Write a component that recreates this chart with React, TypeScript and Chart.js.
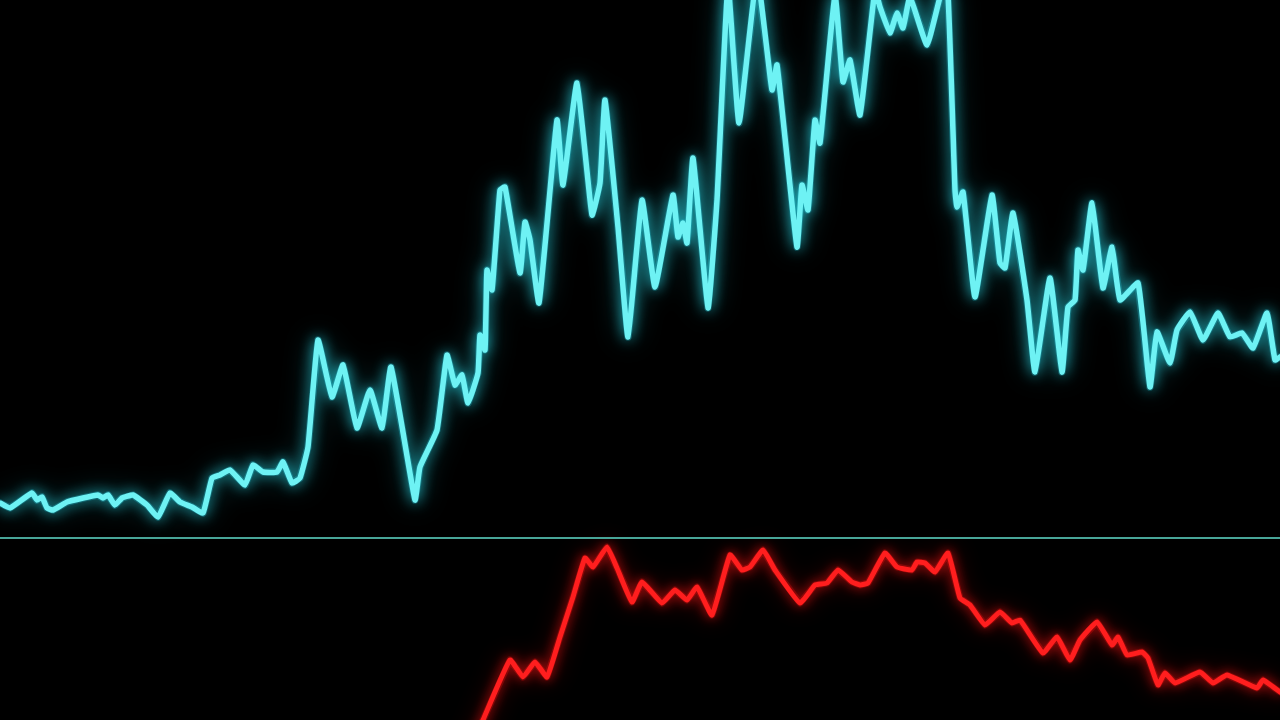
import React, { useEffect, useRef } from "react";
import { Chart, registerables } from "chart.js";

Chart.register(...registerables);

// Upper (cyan) series: time units and price values
const cyanTime = [
  0, 1.0, 3.2, 3.7, 4.2, 4.7, 5.3, 6.7, 8.3, 9.8, 10.3, 10.8, 11.5, 12.2, 13.3, 14.7, 15.8, 17.0, 18.0, 19.2,
  20.3, 21.2, 22.0, 23.0, 24.5, 25.3, 26.3, 27.7, 28.3, 29.2, 30.0, 30.8, 31.8, 33.2, 34.3, 35.7, 37.0, 38.2,
  39.1, 41.5, 42.0, 43.7, 44.7, 45.5, 46.2, 46.8, 47.8, 48.0, 48.5, 48.7, 49.2, 50.0, 50.5, 52.0, 52.5, 53.0,
  53.9, 55.7, 56.3, 57.7, 59.2, 60.0, 60.5, 61.8, 62.8, 64.2, 65.5, 67.3, 67.8, 68.3, 68.7, 69.3, 70.8, 71.7,
  72.8, 73.9, 75.7, 77.2, 77.7, 79.7, 80.2, 80.8, 81.5, 82.0, 83.5, 84.3, 85.0, 86.0, 87.5, 88.0, 89.0, 89.7,
  90.3, 91.0, 92.7, 94.2, 94.8, 95.5, 95.7, 96.3, 97.5, 99.2, 100.0, 100.5, 101.3, 102.7, 103.5, 105.0, 106.2,
  106.8, 107.5, 107.8, 108.3, 109.2, 110.3, 111.2, 112.0, 113.8, 115.0, 115.7, 117.0, 117.7, 119.0, 120.3,
  121.8, 123.0, 124.2, 125.3, 126.7, 127.5, 128.0,
];
const cyanValues = [
  7.0, 6.0, 9.0, 7.6, 8.2, 6.0, 5.6, 7.2, 8.0, 8.6, 8.0, 8.6, 6.6, 8.0, 8.6, 6.6, 4.2, 9.0, 7.2, 6.2,
  5.0, 12.0, 12.6, 13.6, 10.6, 14.6, 13.2, 13.2, 15.2, 11.0, 12.0, 18.2, 39.6, 28.2, 34.6, 22.0, 29.6, 22.0,
  34.2, 7.6, 14.2, 21.6, 36.6, 30.6, 32.6, 27.0, 33.0, 40.6, 37.6, 53.6, 49.6, 69.6, 70.2, 53.0, 63.2, 59.6,
  47.0, 83.6, 70.6, 91.0, 64.6, 71.0, 87.6, 62.2, 40.2, 67.6, 50.2, 68.6, 60.2, 63.0, 59.0, 76.0, 46.0, 67.6,
  110.6, 83.0, 112.6, 89.6, 94.6, 58.2, 70.6, 65.6, 83.6, 79.0, 108.6, 91.2, 95.6, 84.6, 109.6, 106.2, 101.0, 105.0,
  102.0, 108.2, 98.6, 109.6, 108.6, 69.6, 66.2, 69.2, 48.2, 68.6, 55.0, 54.0, 65.0, 47.6, 33.2, 52.0, 33.2,
  46.2, 47.6, 57.6, 53.6, 67.0, 50.0, 58.2, 47.6, 51.0, 30.2, 41.2, 35.0, 41.6, 45.2, 39.6,
  45.0, 40.2, 41.0, 38.0, 45.0, 35.6, 36.2,
];

// Lower (red) series: time units and volume values
const redTime = [
  47.0, 48.3, 51.0, 52.3, 53.5, 54.7, 56.0, 57.3, 58.5, 59.3, 60.7, 61.7, 63.2, 64.2, 66.2, 67.5, 68.7, 69.7,
  71.2, 73.0, 74.2, 75.0, 76.3, 77.5, 80.0, 81.5, 82.7, 83.8, 85.2, 86.0, 86.8, 88.5, 89.7, 91.2, 91.7, 92.5,
  93.5, 94.8, 96.0, 97.0, 98.5, 100.0, 101.2, 102.0, 104.3, 105.7, 107.0, 108.0, 109.7, 111.2, 111.8, 112.7,
  114.2, 114.8, 115.8, 116.5, 117.5, 120.0, 121.3, 122.7, 125.7, 126.3, 128.0,
];
const redValues = [
  -15, 0, 30, 21.5, 29, 21.5, 41.5, 61.5, 81, 76.5, 86.5, 76, 59, 69, 58.5, 65, 60, 66.5,
  52.5, 82.5, 75, 76.5, 85, 75, 58.5, 67.5, 68.5, 75, 69, 67.5, 68.5, 83.5, 76.5, 75, 79, 78.5,
  74, 83.5, 61, 57.5, 47.5, 54, 48.5, 50, 33.5, 41.5, 30, 40, 49, 37.5, 41.5, 32.5,
  34, 31, 17.5, 23.5, 18.5, 24, 18.5, 22.5, 16, 20, 14,
];

// Baseline separating the two panels
const baselineTime = [0, 128];
const baselineValues = [0, 0];

const glowPlugin = {
  id: "glow",
  beforeDatasetDraw(chart: any, args: any) {
    const ds = chart.data.datasets[args.index] as any;
    const ctx = chart.ctx;
    ctx.save();
    if (ds.glowColor) {
      // extra soft halo pass
      const meta = chart.getDatasetMeta(args.index);
      const pts = meta.data;
      if (pts && pts.length) {
        ctx.save();
        ctx.shadowColor = ds.glowColor;
        ctx.shadowBlur = (ds.glowBlur || 14) * 2;
        ctx.strokeStyle = ds.haloColor;
        ctx.lineWidth = ds.borderWidth + 2;
        ctx.lineJoin = "round";
        ctx.lineCap = "round";
        ctx.beginPath();
        pts.forEach((p: any, i: number) => (i === 0 ? ctx.moveTo(p.x, p.y) : ctx.lineTo(p.x, p.y)));
        ctx.stroke();
        ctx.restore();
      }
      ctx.shadowColor = ds.glowColor;
      ctx.shadowBlur = ds.glowBlur || 14;
      ctx.shadowOffsetX = 0;
      ctx.shadowOffsetY = 0;
    }
  },
  afterDatasetDraw(chart: any) {
    chart.ctx.restore();
  },
};

export default function App() {
  const ref = useRef<HTMLCanvasElement | null>(null);

  useEffect(() => {
    document.body.style.margin = "0";
    document.body.style.background = "#000";
    if (!ref.current) return;
    const toPts = (xs: number[], ys: number[]) => xs.map((x, i) => ({ x, y: ys[i] }));
    const chart = new Chart(ref.current, {
      type: "line",
      data: {
        datasets: [
          {
            data: toPts(baselineTime, baselineValues),
            yAxisID: "yPrice",
            borderColor: "rgb(72,165,152)",
            borderWidth: 2,
            pointRadius: 0,
          } as any,
          {
            data: toPts(redTime, redValues),
            yAxisID: "yVol",
            borderColor: "rgb(255,30,30)",
            borderWidth: 5,
            pointRadius: 0,
            tension: 0.12,
            borderJoinStyle: "round",
            borderCapStyle: "round",
            glowColor: "rgba(255,20,20,0.85)",
            haloColor: "rgba(200,10,10,0.35)",
            glowBlur: 12,
          } as any,
          {
            data: toPts(cyanTime, cyanValues),
            yAxisID: "yPrice",
            borderColor: "rgb(110,242,244)",
            borderWidth: 5.5,
            pointRadius: 0,
            tension: 0.12,
            borderJoinStyle: "round",
            borderCapStyle: "round",
            glowColor: "rgba(40,215,230,0.9)",
            haloColor: "rgba(30,160,180,0.35)",
            glowBlur: 14,
          } as any,
        ],
      },
      options: {
        animation: false,
        responsive: true,
        maintainAspectRatio: false,
        layout: { padding: 0 },
        plugins: { legend: { display: false }, tooltip: { enabled: false } },
        scales: {
          x: { type: "linear", min: 0, max: 128, display: false },
          yPrice: { type: "linear", min: -36.4, max: 107.6, display: false },
          yVol: { type: "linear", min: 0, max: 360, display: false },
        },
      },
      plugins: [glowPlugin],
    });
    return () => chart.destroy();
  }, []);

  return (
    <div style={{ position: "fixed", left: 0, top: 0, width: "100vw", height: "100vh", background: "#000" }}>
      <canvas ref={ref} />
    </div>
  );
}
